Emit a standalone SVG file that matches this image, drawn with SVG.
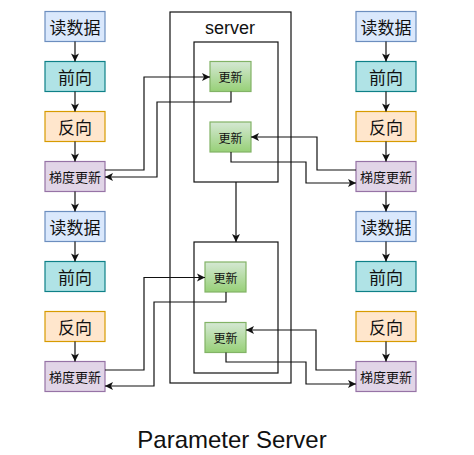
<svg xmlns="http://www.w3.org/2000/svg" width="474" height="455" viewBox="0 0 474 455">
<style>
.t{font-family:"Noto Sans CJK SC","Liberation Sans",sans-serif;text-anchor:middle;dominant-baseline:central;fill:#111}
.big{font-size:17px}
.sm{font-size:13px}
.up{font-size:12px}
.rd{fill:#dae8fc;stroke:#6c8ebf;stroke-width:1.2}
.fw{fill:#b0e3e6;stroke:#0e8088;stroke-width:1.2}
.bw{fill:#ffe6cc;stroke:#d79b00;stroke-width:1.2}
.gd{fill:#e1d5e7;stroke:#9673a6;stroke-width:1.2}
.ud{fill:url(#g);stroke:#82b366;stroke-width:1.2}
.frame{fill:none;stroke:#111;stroke-width:1.2}
.c{fill:none;stroke:#111;stroke-width:1.2;marker-end:url(#a)}
.p{fill:none;stroke:#111;stroke-width:1.2}
</style>
<defs>
<linearGradient id="g" x1="0" y1="0" x2="0" y2="1"><stop offset="0" stop-color="#d5e8d4"/><stop offset="1" stop-color="#97d077"/></linearGradient>
<marker id="a" markerUnits="userSpaceOnUse" markerWidth="10" markerHeight="10" refX="9" refY="5" orient="auto"><path d="M1,1 L9,5 L1,9 L3,5 z" fill="#111"/></marker>
</defs>
<rect width="474" height="455" fill="#fff"/>
<g id="server">
<rect class="frame" x="170" y="12" width="121" height="371"/>
<text x="230" y="28" style="font-family:'Liberation Sans',sans-serif;font-size:18px;text-anchor:middle;dominant-baseline:central;fill:#111">server</text>
</g>
<g id="inner1"><rect class="frame" x="194" y="42" width="84" height="140"/></g>
<g id="inner2"><rect class="frame" x="194" y="242" width="84" height="131"/></g>
<g id="L1"><rect class="rd" x="45" y="11.5" width="60" height="30"/><text class="t big" x="75" y="26.5">读数据</text></g>
<g id="L2"><rect class="fw" x="45" y="61.5" width="60" height="30"/><text class="t big" x="75" y="76.5">前向</text></g>
<g id="L3"><rect class="bw" x="45" y="111.5" width="60" height="30"/><text class="t big" x="75" y="126.5">反向</text></g>
<g id="L4"><rect class="gd" x="45" y="161.5" width="60" height="30"/><text class="t sm" x="75" y="176.5">梯度更新</text></g>
<g id="L5"><rect class="rd" x="45" y="211.5" width="60" height="30"/><text class="t big" x="75" y="226.5">读数据</text></g>
<g id="L6"><rect class="fw" x="45" y="261.5" width="60" height="30"/><text class="t big" x="75" y="276.5">前向</text></g>
<g id="L7"><rect class="bw" x="45" y="311.5" width="60" height="30"/><text class="t big" x="75" y="326.5">反向</text></g>
<g id="L8"><rect class="gd" x="45" y="361.5" width="60" height="30"/><text class="t sm" x="75" y="376.5">梯度更新</text></g>
<g id="R1"><rect class="rd" x="356" y="11.5" width="60" height="30"/><text class="t big" x="386" y="26.5">读数据</text></g>
<g id="R2"><rect class="fw" x="356" y="61.5" width="60" height="30"/><text class="t big" x="386" y="76.5">前向</text></g>
<g id="R3"><rect class="bw" x="356" y="111.5" width="60" height="30"/><text class="t big" x="386" y="126.5">反向</text></g>
<g id="R4"><rect class="gd" x="356" y="161.5" width="60" height="30"/><text class="t sm" x="386" y="176.5">梯度更新</text></g>
<g id="R5"><rect class="rd" x="356" y="211.5" width="60" height="30"/><text class="t big" x="386" y="226.5">读数据</text></g>
<g id="R6"><rect class="fw" x="356" y="261.5" width="60" height="30"/><text class="t big" x="386" y="276.5">前向</text></g>
<g id="R7"><rect class="bw" x="356" y="311.5" width="60" height="30"/><text class="t big" x="386" y="326.5">反向</text></g>
<g id="R8"><rect class="gd" x="356" y="361.5" width="60" height="30"/><text class="t sm" x="386" y="376.5">梯度更新</text></g>
<g id="U1"><rect class="ud" x="210" y="61.5" width="41" height="30"/><text class="t up" x="230.5" y="76.5">更新</text></g>
<g id="U2"><rect class="ud" x="210" y="122" width="41" height="30"/><text class="t up" x="230.5" y="137">更新</text></g>
<g id="U3"><rect class="ud" x="205" y="262" width="41" height="30"/><text class="t up" x="225.5" y="277">更新</text></g>
<g id="U4"><rect class="ud" x="205" y="322.5" width="41" height="30"/><text class="t up" x="225.5" y="337.5">更新</text></g>
<g id="connectors">
<path class="c" d="M75,41.5 V61.5"/>
<path class="c" d="M75,91.5 V111.5"/>
<path class="c" d="M75,141.5 V161.5"/>
<path class="c" d="M75,191.5 V211.5"/>
<path class="c" d="M75,241.5 V261.5"/>
<path class="c" d="M75,341.5 V361.5"/>
<path class="c" d="M386,41.5 V61.5"/>
<path class="c" d="M386,91.5 V111.5"/>
<path class="c" d="M386,141.5 V161.5"/>
<path class="c" d="M386,191.5 V211.5"/>
<path class="c" d="M386,241.5 V261.5"/>
<path class="c" d="M386,341.5 V361.5"/>
<path class="c" d="M236,182 V242"/>
<path class="c" d="M105,170 H144 V77 H210"/>
<path class="c" d="M231,91.5 V102 H157 V177 H105"/>
<path class="c" d="M356,170 H317 V137 H251"/>
<path class="c" d="M231,152 V162 H306 V183 H356"/>
<path class="c" d="M105,370 H144 V277.5 H205"/>
<path class="c" d="M226,292 V302 H154 V386 H105"/>
<path class="c" d="M356,370 H316 V330 H246"/>
<path class="c" d="M226,352.5 V362 H306 V384 H356"/>
</g>
<text x="232" y="439" style="font-family:'Liberation Sans',sans-serif;font-size:24px;text-anchor:middle;dominant-baseline:central;fill:#111">Parameter Server</text>
</svg>
